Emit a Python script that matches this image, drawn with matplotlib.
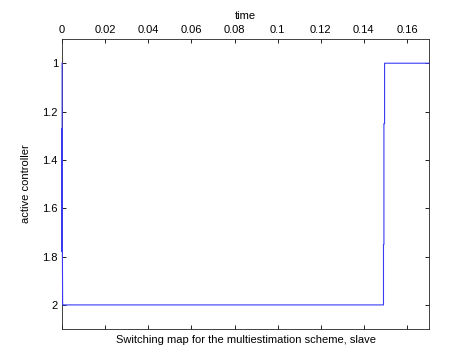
import matplotlib
matplotlib.use("Agg")
import matplotlib.pyplot as plt
from matplotlib.ticker import FuncFormatter

# switching signal (time, active controller index)
time = [0.0, 0.0, 0.00005, 0.00005, 0.0001, 0.0001, 0.00015, 0.00025, 0.0004,
        0.1491, 0.1491, 0.1493, 0.1493, 0.1496, 0.1496, 0.1702]
controller = [1.0, 1.27, 1.78, 1.27, 1.78, 1.27, 1.78, 2.0, 2.0,
              2.0, 1.75, 1.75, 1.25, 1.25, 1.0, 1.0]

x_ticks = [0, 0.02, 0.04, 0.06, 0.08, 0.1, 0.12, 0.14, 0.16]
y_ticks = [1, 1.2, 1.4, 1.6, 1.8, 2]

title = "Switching map for the multiestimation scheme, slave"

plt.rcParams['font.family'] = ['Liberation Sans', 'DejaVu Sans']
plt.rcParams['font.size'] = 8

fig = plt.figure(figsize=(4.74, 3.55), dpi=100)
ax = fig.add_axes([0.131, 0.073, 0.774, 0.817])

ax.plot(time, controller, color='#3a3af2', linewidth=0.8, clip_on=False, zorder=3)

ax.set_xlim(0, 0.1702)
ax.set_ylim(2.1, 0.9)
ax.set_xticks(x_ticks)
ax.set_yticks(y_ticks)
fmt = FuncFormatter(lambda v, p: "%g" % v)
ax.xaxis.set_major_formatter(fmt)
ax.yaxis.set_major_formatter(fmt)

ax.xaxis.tick_top()
ax.xaxis.set_label_position('top')
ax.tick_params(direction='in', length=3, width=0.6, top=True, bottom=True,
               left=True, right=True, labelsize=8, pad=3)
for s in ax.spines.values():
    s.set_linewidth(0.6)
    s.set_color('#222222')

ax.set_xlabel('time', fontsize=8, labelpad=4)
ax.set_ylabel('active controller', fontsize=8, labelpad=8)
fig.text(0.52, 0.043, title, ha='center', va='center', fontsize=8)

fig.savefig('out.png', dpi=100)
